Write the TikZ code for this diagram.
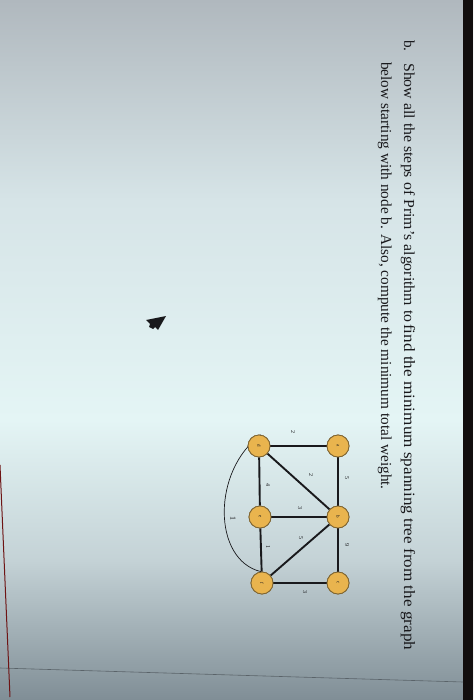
\documentclass[tikz,border=0pt]{standalone}
\usepackage{fontspec}
\setmainfont{Liberation Serif}
\definecolor{bgA}{RGB}{176,184,190}
\definecolor{bgB}{RGB}{214,228,231}
\definecolor{bgC}{RGB}{228,245,245}
\definecolor{bgD}{RGB}{196,210,214}
\definecolor{bgE}{RGB}{128,142,150}
\definecolor{nodefill}{RGB}{233,180,78}
\definecolor{nodeedge}{RGB}{125,100,50}
\definecolor{ink}{RGB}{25,25,28}
\definecolor{frame}{RGB}{18,14,14}
\definecolor{redline}{RGB}{110,20,20}
\tikzset{
  vert/.style={circle, minimum size=22pt, inner sep=0pt, fill=nodefill, draw=nodeedge, line width=0.8pt, font=\fontsize{5}{5}\selectfont, text=ink, rotate=-90},
  edgeline/.style={line width=1.9pt, draw=ink},
  wlabel/.style={font=\fontsize{6}{6}\selectfont, text=ink, rotate=-90, inner sep=0pt},
  bodytext/.style={font=\fontsize{15.3}{15.3}\selectfont, text=ink, rotate=-90, anchor=base west, inner sep=0pt}
}
\begin{document}
\begin{tikzpicture}[x=1pt,y=-1pt]
\useasboundingbox (0,0) rectangle (473,700);
% background (photographed screen)
\shade[top color=bgA, bottom color=bgB] (0,0) rectangle (473,200);
\shade[top color=bgB, bottom color=bgC] (0,200) rectangle (473,420);
\shade[top color=bgC, bottom color=bgD] (0,420) rectangle (473,560);
\shade[top color=bgD, bottom color=bgE] (0,560) rectangle (473,700);
\fill[frame] (463,0) rectangle (473,700);
\draw[bgE!70!black, line width=0.6pt] (0,668) -- (463,682);
\draw[redline, line width=1pt] (0,465) -- (10,697);
% text (line 1 is a little wider in the photo)
\node[bodytext] (lb) at (404,40) {b.};
\node[bodytext] (l1a) at (404,63) {\scalebox{1.036}[1.0]{Show all the steps of Prim's algorithm to}};
\node[bodytext] (l1b) at (404,324) {\scalebox{1.12}[1.03]{find the minimum spanning tree from the graph}};
\node[bodytext] (l2) at (381,62) {below starting with node b. Also, compute the minimum total weight.};
% cursor
\fill[ink] (166,316) -- (146,320) -- (150,324) -- (149,327) -- (153,329) -- (155,327) -- (158,330) -- cycle;
% graph
\node[vert] (a) at (338,446) {a};
\node[vert] (d) at (259,446) {d};
\node[vert] (b) at (338,517) {b};
\node[vert] (e) at (260,517) {e};
\node[vert] (c) at (338,583) {c};
\node[vert] (f) at (262,583) {f};
\draw[edgeline] (a) -- (d);
\draw[edgeline] (a) -- (b);
\draw[edgeline] (d) -- (b);
\draw[edgeline] (d) -- (e);
\draw[edgeline] (e) -- (b);
\draw[edgeline] (b) -- (c);
\draw[edgeline] (b) -- (f);
\draw[edgeline] (e) -- (f);
\draw[edgeline] (c) -- (f);
\draw[ink, line width=0.7pt] (d.170) .. controls (212,470) and (212,560) .. (f.185);
% nodes again, over the line ends
\node[vert] at (a) {a};
\node[vert] at (d) {d};
\node[vert] at (b) {b};
\node[vert] at (e) {e};
\node[vert] at (c) {c};
\node[vert] at (f) {f};
% weights
\node[wlabel] (wab) at (347,478) {5};
\node[wlabel] (wad) at (293,432) {2};
\node[wlabel] (wdb) at (311,475) {2};
\node[wlabel] (wde) at (268,485) {4};
\node[wlabel] (web) at (300,508) {3};
\node[wlabel] (wbc) at (347,545) {9};
\node[wlabel] (wbf) at (301,538) {5};
\node[wlabel] (wef) at (268,547) {1};
\node[wlabel] (wcf) at (305,592) {3};
\node[wlabel, font=\fontsize{8}{8}\selectfont] (wdf) at (233,518) {1};
\end{tikzpicture}
\end{document}
